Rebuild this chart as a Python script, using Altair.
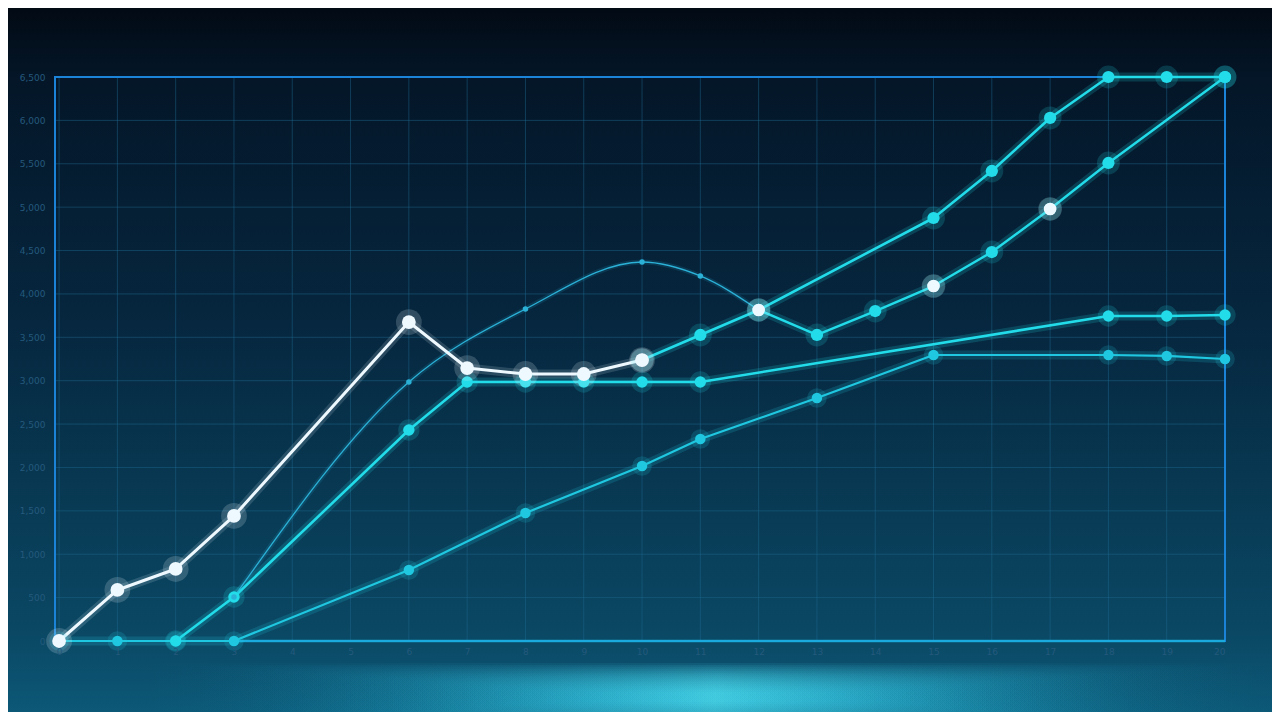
import altair as alt
import pandas as pd

# ---- data ----
s1_x = [0, 1, 2, 3, 6, 7, 8, 9, 10]
s1_y = [0, 588, 830, 1441, 3676, 3146, 3077, 3077, 3238]

s2_x = [10, 11, 12, 15, 16, 17, 18, 19, 20]
s2_y = [3238, 3527, 3815, 4875, 5417, 6028, 6500, 6500, 6500]

s3_x = [2, 3, 6, 7, 8, 9, 10, 11, 18, 19, 20]
s3_y = [0, 507, 2432, 2985, 2985, 2985, 2985, 2985, 3746, 3746, 3757]

s4_x = [0, 1, 2, 3, 6, 8, 10, 11, 13, 15, 18, 19, 20]
s4_y = [0, 0, 0, 0, 818, 1475, 2017, 2328, 2801, 3296, 3296, 3285, 3250]

s5_x = [3, 6, 8, 10, 11, 12]
s5_y = [507, 2985, 3826, 4368, 4207, 3815]

s6_x = [12, 13, 14, 15, 16, 17, 18, 20]
s6_y = [3815, 3527, 3803, 4091, 4483, 4979, 5509, 6500]

hl_x = [10, 12, 15, 17]
hl_y = [3238, 3815, 4091, 4979]

x_ticks = list(range(0, 21))
y_ticks = list(range(0, 6501, 500))

W, H = 1170, 564


def frame(name, xs, ys):
    return pd.DataFrame({"series": name, "x": xs, "y": ys})


d1 = frame("s1", s1_x, s1_y)
d2 = frame("s2", s2_x, s2_y)
d3 = frame("s3", s3_x, s3_y)
d4 = frame("s4", s4_x, s4_y)
d5 = frame("s5", s5_x, s5_y)
d6 = frame("s6", s6_x, s6_y)
hl = frame("hl", hl_x, hl_y)

xscale = alt.Scale(domain=[-0.07, 20], nice=False, zero=False)
yscale = alt.Scale(domain=[0, 6500], nice=False)

xaxis = alt.Axis(values=x_ticks, grid=False, domain=False, ticks=False, zindex=1,
                 labelColor="#24597c", labelFontSize=9, labelPadding=6,
                 labelFont="DejaVu Sans", title=None,
                 labelExpr="format(datum.value, 'd')")
yaxis = alt.Axis(values=y_ticks, grid=False, domain=False, ticks=False, zindex=1,
                 labelColor="#24597c", labelFontSize=9, labelPadding=10,
                 labelFont="DejaVu Sans", title=None,
                 labelExpr="format(datum.value, ',d')")
X = alt.X("x:Q", scale=xscale, axis=xaxis)
Y = alt.Y("y:Q", scale=yscale, axis=yaxis)

one = pd.DataFrame({"a": [0]})

bg = alt.Chart(one).mark_rect(
    clip=False,
    fill={"gradient": "linear", "x1": 0, "y1": 0, "x2": 0, "y2": 1,
          "stops": [{"offset": 0, "color": "#020a14"},
                    {"offset": 0.1, "color": "#041628"},
                    {"offset": 0.45, "color": "#06273f"},
                    {"offset": 0.88, "color": "#0a4763"},
                    {"offset": 1, "color": "#0c5877"}]},
).encode(x=alt.value(-47), x2=alt.value(W + 47), y=alt.value(-69), y2=alt.value(H + 71))

hgrad = {"gradient": "linear", "x1": 0, "y1": 0, "x2": 1, "y2": 0,
         "stops": [{"offset": 0, "color": "rgba(30,200,240,0)"},
                   {"offset": 0.5, "color": "rgba(80,235,255,1)"},
                   {"offset": 1, "color": "rgba(30,200,240,0)"}]}
glows = []
n = 16
cx, cy = 660, H + 56
for i in range(n):
    t = i / (n - 1)
    half_w = 580 - 380 * t
    half_h = 34 - 29 * t
    glows.append(alt.Chart(one).mark_rect(clip=False, fill=hgrad, opacity=0.09,
                                          cornerRadius=half_h).encode(
        x=alt.value(cx - half_w), x2=alt.value(cx + half_w),
        y=alt.value(cy - half_h), y2=alt.value(min(cy + half_h, H + 71))))

vgrid = alt.Chart(pd.DataFrame({"x": x_ticks})).mark_rule(
    color="#1f6a92", opacity=0.45, strokeWidth=1).encode(x=alt.X("x:Q", scale=xscale, axis=xaxis))
hgrid = alt.Chart(pd.DataFrame({"y": y_ticks})).mark_rule(
    color="#1f6a92", opacity=0.45, strokeWidth=1).encode(y=alt.Y("y:Q", scale=yscale, axis=yaxis))

border = alt.Chart(one).mark_rect(clip=False, fillOpacity=0, stroke="#1b84d8", strokeWidth=2).encode(
    x=alt.value(0), x2=alt.value(W), y=alt.value(0), y2=alt.value(H))
bottom_line = alt.Chart(one).mark_rule(clip=False, color="#1ab4e0", strokeWidth=2.5, opacity=0.8).encode(
    x=alt.value(180), x2=alt.value(W), y=alt.value(H))


def line(df, color, width, interp="linear", glow_w=9, glow_op=0.18):
    base = alt.Chart(df)
    g = base.mark_line(color=color, strokeWidth=glow_w, opacity=glow_op,
                       interpolate=interp, strokeCap="round", strokeJoin="round").encode(x=X, y=Y)
    l = base.mark_line(color=color, strokeWidth=width, interpolate=interp,
                       strokeCap="round", strokeJoin="round").encode(x=X, y=Y)
    return g + l


def points(df, color, size, halo=True):
    base = alt.Chart(df)
    layers = []
    if halo:
        layers.append(base.mark_circle(color=color, size=size * 3.5, opacity=0.18).encode(x=X, y=Y))
    layers.append(base.mark_circle(color=color, size=size, opacity=1).encode(x=X, y=Y))
    return alt.layer(*layers)


WHITE = "#eef8ff"
CYAN = "#22dcea"
CYAN2 = "#1fc8e0"
THIN = "#2bb0d6"

chart = alt.layer(
    bg, *glows, vgrid, hgrid, border, bottom_line,
    line(d4, CYAN2, 2.2),
    line(d3, CYAN, 2.6),
    line(d5, THIN, 1.3, interp="monotone", glow_w=5, glow_op=0.15),
    line(d6, CYAN, 2.4),
    line(d2, CYAN, 2.6),
    line(d1, WHITE, 3, glow_w=9, glow_op=0.15),
    points(d4, CYAN2, 110),
    points(d3, CYAN, 130),
    points(d5, THIN, 30, halo=False),
    points(d6, CYAN, 150),
    points(d2, CYAN, 150),
    points(d1, WHITE, 190),
    points(hl, WHITE, 160),
).properties(
    width=W, height=H,
    autosize=alt.AutoSizeParams(type="none"),
    padding={"left": 47, "top": 69, "right": 47, "bottom": 71},
).configure(background="#020a14").configure_view(stroke=None)

chart.save("out.html", embed_options={"renderer": "svg", "actions": False})
